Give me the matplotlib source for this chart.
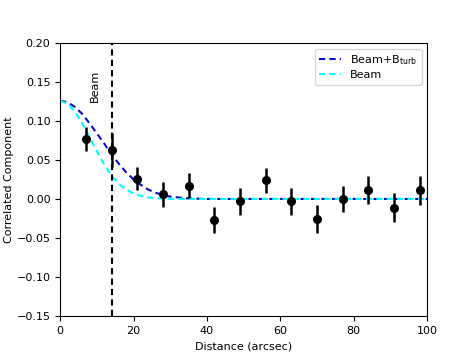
import matplotlib
matplotlib.use('Agg')
import matplotlib.pyplot as plt

# Точки измерений
dist = [7, 14, 21, 28, 35, 42, 49, 56, 63, 70, 77, 84, 91, 98]
corr = [0.077, 0.063, 0.026, 0.006, 0.017, -0.027, -0.003, 0.024, -0.003, -0.026, 0.000, 0.011, -0.011, 0.011]
err = [0.015, 0.022, 0.015, 0.016, 0.016, 0.017, 0.017, 0.016, 0.017, 0.018, 0.017, 0.018, 0.019, 0.019]

# Кривые модели
curve_x = [0, 2, 4, 6, 8, 10, 12, 14, 16, 18, 20, 22, 24, 26, 28, 30, 32, 34, 36, 40, 50, 100]
turb_y = [0.126, 0.124, 0.118, 0.109, 0.097, 0.084, 0.071, 0.057, 0.045, 0.034, 0.025, 0.018,
          0.012, 0.008, 0.005, 0.003, 0.002, 0.001, 0.0005, 0.0, 0.0, 0.0]
beam_y = [0.126, 0.122, 0.112, 0.097, 0.079, 0.061, 0.044, 0.030, 0.019, 0.012, 0.007, 0.004,
          0.002, 0.001, 0.0005, 0.0, 0.0, 0.0, 0.0, 0.0, 0.0, 0.0]

beam_pos = 14

plt.rcParams['font.size'] = 8
fig = plt.figure(figsize=(4.74, 3.55), dpi=100)
ax = fig.add_axes([0.127, 0.110, 0.774, 0.769])

ax.plot(curve_x, turb_y, '--', color='#0a0ac8', lw=1.5, dashes=(3, 2), label=r'Beam+B$_{\rm turb}$')
ax.plot(curve_x, beam_y, '--', color='cyan', lw=1.5, dashes=(3, 2), label='Beam')
ax.errorbar(dist, corr, yerr=err, fmt='o', color='black', ms=5.5, elinewidth=1.8, capsize=0, zorder=5)
ax.axvline(beam_pos, color='black', ls='--', lw=1.5, dashes=(3, 2))
ax.text(9.5, 0.145, 'Beam', rotation=90, ha='center', va='center', fontsize=8)

ax.set_xlim(0, 100)
ax.set_ylim(-0.15, 0.20)
ax.set_xlabel('Distance (arcsec)')
ax.set_ylabel('Correlated Component', labelpad=2)
ax.legend(loc='upper right', handlelength=2.0, borderpad=0.4, labelspacing=0.3)

fig.savefig('out.png', dpi=100)
